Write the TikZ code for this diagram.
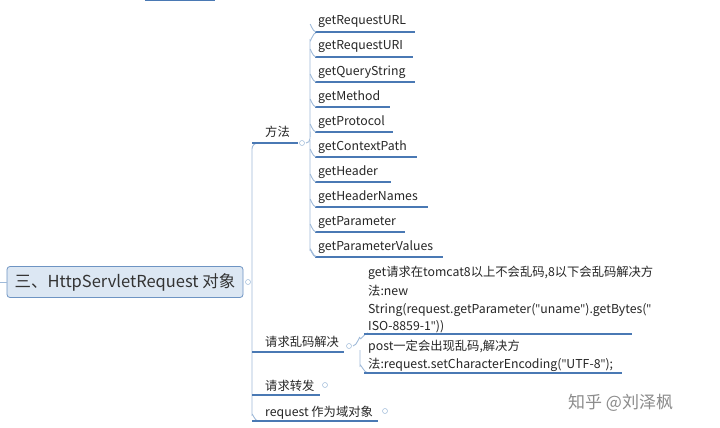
\documentclass[tikz,border=0pt]{standalone}
\usepackage{fontspec}
\setmainfont{Noto Sans CJK SC}
\newfontfamily\qfont{Open Sans}
\newcommand\qq{{\qfont\symbol{34}}}
\begin{document}
\begin{tikzpicture}[x=1pt,y=-1pt,
  ul/.style={draw=ulc,line width=1.6pt},
  cn/.style={draw=cnc,line width=0.9pt},
  lab/.style={anchor=base west,inner sep=0pt,font=\fontsize{12.3}{14}\selectfont,text=black!85},
  tog/.style={circle,draw=cnc,fill=white,inner sep=0pt,minimum size=5pt,line width=0.5pt}]
\definecolor{ulc}{HTML}{4A79B4}
\definecolor{cnc}{HTML}{9FBAD9}
\definecolor{rootfill}{HTML}{DCE7F3}
\useasboundingbox (0,0) rectangle (720,428);
\fill[white] (0,0) rectangle (720,428);
\draw[ul] (145,0.5) -- (215,0.5);
\node[draw=ulc!80,fill=rootfill,rounded corners=3pt,line width=0.8pt,minimum width=236pt,minimum height=31pt,font=\fontsize{16.5}{18}\selectfont,text=black!80] (root) at (125,282) {三、HttpServletRequest 对象};
\coordinate (rl) at (0,282);
\draw[cn] (rl) -- (root.west);
\node[tog] (t0) at (248,282) {};
\draw[cn] (252,149) to[out=90,in=180] (258,143) (252,149) -- (252,415) to[out=90,in=180] (258,421);
\node[lab] (fa) at (265,136) {方法};
\draw[ul] (252,143) -- (298,143);
\node[tog] (t1) at (302,143) {};
\node[lab] (lm) at (265,346) {请求乱码解决};
\draw[ul] (252,352) -- (344,352);
\node[tog] (t2) at (349,346) {};
\node[lab] (zf) at (265,390) {请求转发};
\draw[ul] (252,395) -- (320,395);
\node[tog] (t3) at (325,385) {};
\node[lab] (yu) at (265,416) {request 作为域对象};
\draw[ul] (252,421) -- (378,421);
\node[tog] (t4) at (385,411) {};
\draw[cn] (306,143) to[out=0,in=-90] (310,130) -- (310,40) to[out=-90,in=180] (317,32);
\draw[cn] (310,140) -- (310,250) to[out=90,in=180] (317,257);
\foreach \t/\y/\w [count=\i] in {getRequestURL/32/415,getRequestURI/57/413,getQueryString/82/415,getMethod/107/390,getProtocol/132/393,getContextPath/157/417,getHeader/182/391,getHeaderNames/207/428,getParameter/232/405,getParameterValues/257/443}{
  \node[lab] (m\i) at (318,\y-7) {\t};
  \draw[ul] (315,\y) -- (\w,\y);
  \draw[cn] (310,\y-7) to[out=90,in=180] (316,\y);
}
\draw[cn] (353,346) to[out=0,in=90] (360,338) to[out=-90,in=180] (368,333);
\draw[cn] (360,350) -- (360,366) to[out=90,in=180] (368,373);
\node[lab] (e1) at (368,276) {get请求在tomcat8以上不会乱码,8以下会乱码解决方};
\node[lab] (e1b) at (368,295) {法:new};
\node[lab] (e1c) at (368,313) {String(request.getParameter(\qq uname\qq).getBytes(\qq};
\node[lab] (e1d) at (368,330) {ISO-8859-1\qq))};
\draw[ul] (364,334) -- (632,334);
\node[lab] (e2) at (368,350) {post一定会出现乱码,解决方};
\node[lab] (e2b) at (368,368) {法:request.setCharacterEncoding(\qq UTF-8\qq);};
\draw[ul] (364,373) -- (622,373);
\node[anchor=base west,inner sep=0pt,font=\fontsize{17}{20}\selectfont,text=black!45] (wm) at (568,408) {知乎 @刘泽枫};
\end{tikzpicture}
\end{document}
